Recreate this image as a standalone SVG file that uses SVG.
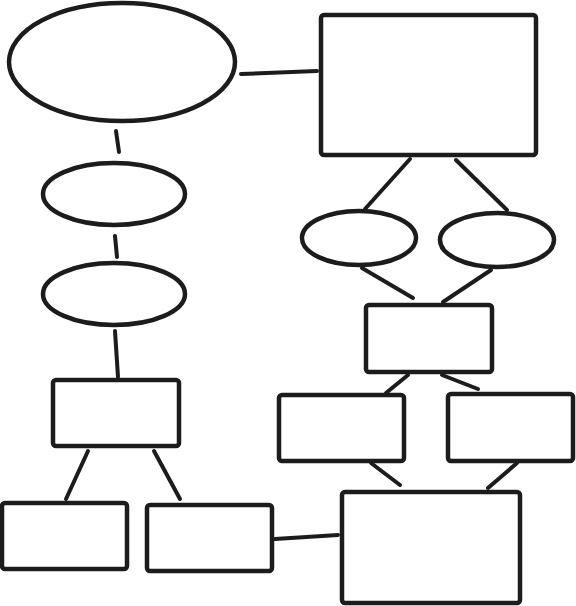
<svg xmlns="http://www.w3.org/2000/svg" width="576" height="606" viewBox="0 0 576 606">
<style>
.n{fill:none;stroke:#1c1c1c;stroke-width:4.5;stroke-linejoin:round}
.c line{stroke:#1c1c1c;stroke-width:4;stroke-linecap:round}
</style>
<rect width="576" height="606" fill="#fff"/>
<g id="connectors" class="c">
<line x1="241" y1="74" x2="317" y2="71"/>
<line x1="116" y1="131" x2="119" y2="152"/>
<line x1="115" y1="236" x2="117" y2="257"/>
<line x1="115" y1="331" x2="118" y2="377"/>
<line x1="88" y1="451" x2="66" y2="499"/>
<line x1="154" y1="451" x2="180" y2="499"/>
<line x1="275" y1="539" x2="338" y2="535"/>
<line x1="410" y1="159" x2="365" y2="209"/>
<line x1="456" y1="160" x2="507" y2="210"/>
<line x1="362" y1="268" x2="413" y2="298"/>
<line x1="491" y1="270" x2="443" y2="302"/>
<line x1="408" y1="375" x2="386" y2="393"/>
<line x1="442" y1="375" x2="478" y2="389"/>
<line x1="371" y1="463" x2="400" y2="485"/>
<line x1="517" y1="463" x2="488" y2="488"/>
</g>
<g id="ellipse1"><ellipse class="n" cx="122" cy="62" rx="113" ry="59"/></g>
<g id="rect-top"><rect class="n" x="321" y="15" width="215" height="140" rx="3"/></g>
<g id="ellipse2"><ellipse class="n" cx="114" cy="194" rx="71" ry="31"/></g>
<g id="ellipse3"><ellipse class="n" cx="114" cy="294" rx="71" ry="31"/></g>
<g id="rect-l1"><rect class="n" x="53" y="380" width="126" height="66" rx="3"/></g>
<g id="rect-a"><rect class="n" x="2" y="503" width="125" height="66" rx="3"/></g>
<g id="rect-b"><rect class="n" x="147" y="505" width="125" height="66" rx="3"/></g>
<g id="rect-bottom"><rect class="n" x="342" y="492" width="178" height="111" rx="3"/></g>
<g id="ellipse4"><ellipse class="n" cx="359" cy="238" rx="57" ry="27"/></g>
<g id="ellipse5"><ellipse class="n" cx="497" cy="240" rx="57" ry="27"/></g>
<g id="rect-r1"><rect class="n" x="366" y="305" width="126" height="67" rx="3"/></g>
<g id="rect-r2"><rect class="n" x="279" y="395" width="125" height="66" rx="3"/></g>
<g id="rect-r3"><rect class="n" x="448" y="394" width="125" height="67" rx="3"/></g>
</svg>
